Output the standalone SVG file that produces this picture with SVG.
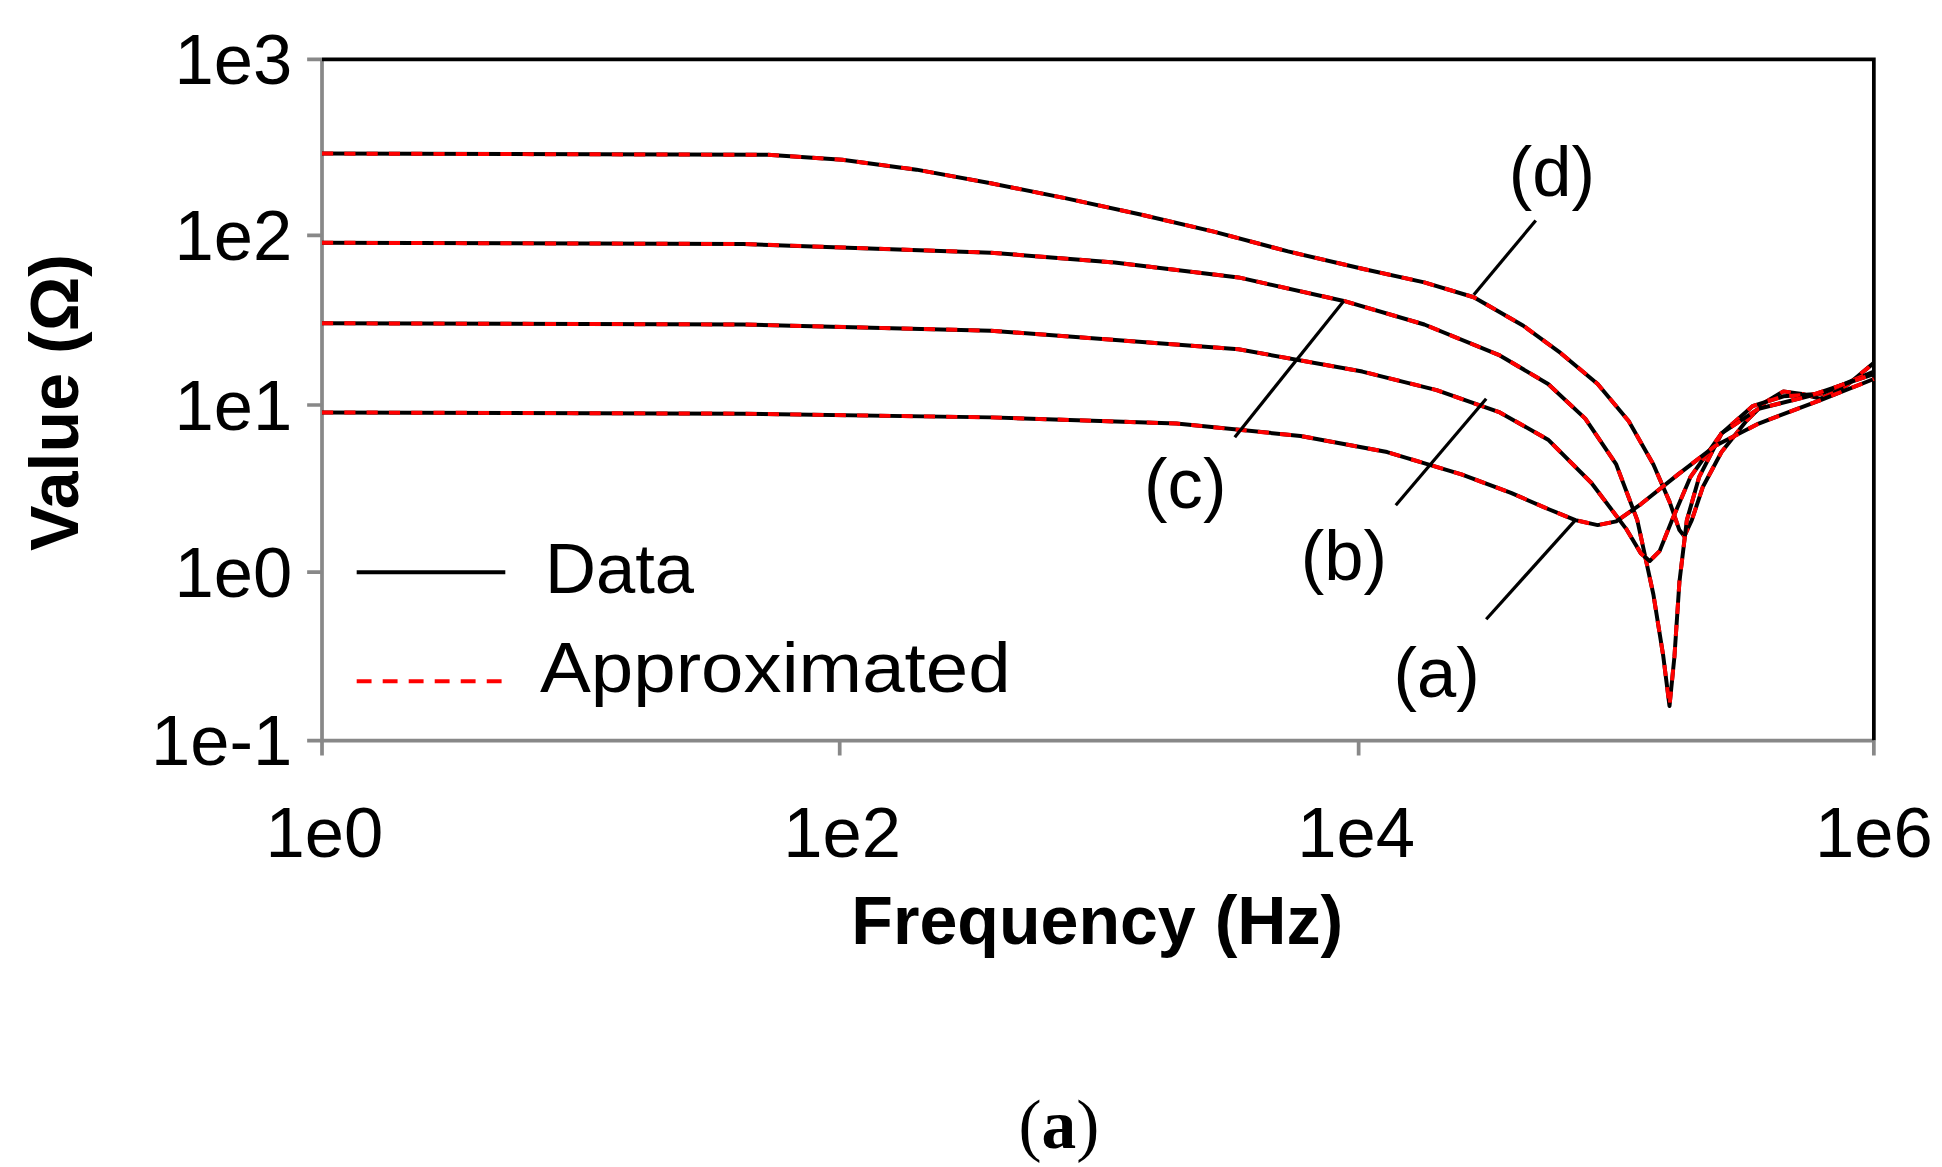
<svg xmlns="http://www.w3.org/2000/svg" width="1942" height="1167" viewBox="0 0 1942 1167">
<style>
.t{font-family:"Liberation Sans",Arial,sans-serif;font-size:57px;fill:#000}
.b{font-family:"Liberation Sans",Arial,sans-serif;font-size:55px;font-weight:bold;fill:#000}
.d{fill:none;stroke:#000;stroke-width:3.2;stroke-linejoin:round}
.r{fill:none;stroke:#f00;stroke-width:3.2;stroke-dasharray:9 9;stroke-linejoin:round}
.ax{stroke:#888;stroke-width:3;fill:none}
.ld{stroke:#000;stroke-width:2.6}
</style>
<rect width="1942" height="1167" fill="#fff"/>
<g transform="scale(1.2385)">
<g id="axes">
<path class="ax" d="M260 48V598H1513"/>
<path d="M260 48H1513V598" stroke="#000" stroke-width="3" fill="none"/>
<path class="ax" d="M248 48H260M248 190H260M248 327H260M248 462H260M248 598H260M260 598V610M678 598V610M1097 598V610M1513 598V610"/>
</g>
<g id="ticklabels" class="t">
<text x="236" y="68" text-anchor="end">1e3</text>
<text x="236" y="210" text-anchor="end">1e2</text>
<text x="236" y="347" text-anchor="end">1e1</text>
<text x="236" y="482" text-anchor="end">1e0</text>
<text x="236" y="618" text-anchor="end">1e-1</text>
<text x="262" y="692" text-anchor="middle">1e0</text>
<text x="680" y="692" text-anchor="middle">1e2</text>
<text x="1095" y="692" text-anchor="middle">1e4</text>
<text x="1513" y="692" text-anchor="middle">1e6</text>
</g>
<text class="b" x="886" y="762" text-anchor="middle">Frequency (Hz)</text>
<text class="b" transform="translate(63 325) rotate(-90)" text-anchor="middle">Value (Ω)</text>
<g id="curves">
<g id="cd"><polyline class="d" points="260,124 620,125 680,129 740,137 800,148 860,160 920,173 980,187 1040,203 1100,217 1150,228 1190,240 1230,263 1260,285 1290,310 1315,340 1335,375 1348,405 1356,428 1360,433 1366,420 1375,393 1390,365 1410,340 1425,325 1440,316 1455,318 1470,322 1490,312 1513,293"/><polyline class="r" points="260,124 620,125 680,129 740,137 800,148 860,160 920,173 980,187 1040,203 1100,217 1150,228 1190,240 1230,263 1260,285 1290,310 1315,340 1335,375 1348,405 1356,428 1360,433 1366,420 1375,393 1390,365 1410,340 1425,325 1440,316 1455,318 1470,322 1490,312 1513,293"/></g>
<g id="cc"><polyline class="d" points="260,196 600,197 800,204 900,212 1000,224 1085,243 1150,262 1211,287 1250,310 1280,338 1305,375 1322,420 1335,480 1343,530 1348,570 1352,530 1356,470 1362,420 1372,385 1390,350 1415,328 1440,320 1470,318 1513,300"/><polyline class="r" points="260,196 600,197 800,204 900,212 1000,224 1085,243 1150,262 1211,287 1250,310 1280,338 1305,375 1322,420 1335,480 1343,530 1348,570 1352,530 1356,470 1362,420 1372,385 1390,350 1415,328 1440,320 1470,318 1513,300"/></g>
<g id="cb"><polyline class="d" points="260,261 600,262 800,267 1000,282 1100,300 1160,315 1211,333 1250,355 1285,390 1313,427 1325,447 1332,453 1340,445 1350,420 1365,385 1390,350 1420,330 1460,320 1513,302"/><polyline class="r" points="260,261 600,262 800,267 1000,282 1100,300 1160,315 1211,333 1250,355 1285,390 1313,427 1325,447 1332,453 1340,445 1350,420 1365,385 1390,350 1420,330 1460,320 1513,302"/></g>
<g id="ca"><polyline class="d" points="260,333 600,334 800,337 950,342 1050,352 1120,365 1180,383 1220,398 1250,411 1272,420 1290,424 1305,421 1325,407 1355,383 1385,360 1420,342 1470,323 1513,306"/><polyline class="r" points="260,333 600,334 800,337 950,342 1050,352 1120,365 1180,383 1220,398 1250,411 1272,420 1290,424 1305,421 1325,407 1355,383 1385,360 1420,342 1470,323 1513,306"/></g>
</g>
<g id="leaders">
<line class="ld" x1="1240" y1="178" x2="1190" y2="238"/>
<line class="ld" x1="1085" y1="243" x2="997" y2="353"/>
<line class="ld" x1="1200" y1="322" x2="1127" y2="408"/>
<line class="ld" x1="1272" y1="420" x2="1200" y2="500"/>
</g>
<g id="labels" class="t">
<text x="1253" y="158" text-anchor="middle">(d)</text>
<text x="957" y="410" text-anchor="middle">(c)</text>
<text x="1085" y="468" text-anchor="middle">(b)</text>
<text x="1160" y="563" text-anchor="middle">(a)</text>
</g>
<g id="legend">
<line x1="288" y1="462" x2="408" y2="462" stroke="#000" stroke-width="3.2"/>
<line x1="288" y1="550" x2="408" y2="550" stroke="#f00" stroke-width="3.2" stroke-dasharray="12 9"/>
<text class="t" x="440" y="479">Data</text>
<text class="t" x="436" y="559" textLength="380" lengthAdjust="spacingAndGlyphs">Approximated</text>
</g>
<text x="855" y="927" text-anchor="middle" font-family="Liberation Serif,serif" font-size="56"><tspan>(</tspan><tspan font-weight="bold">a</tspan><tspan>)</tspan></text>
</g>
</svg>
